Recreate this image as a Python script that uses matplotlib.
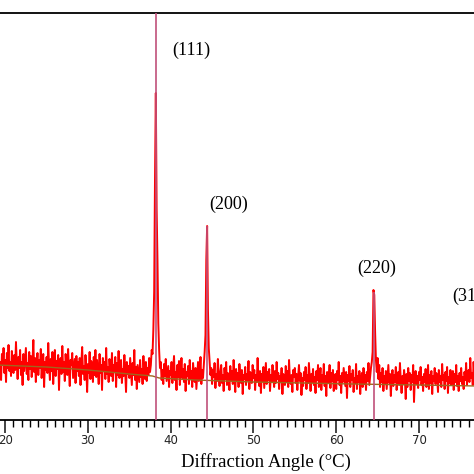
import numpy as np
import matplotlib
matplotlib.use('Agg')
import matplotlib.pyplot as plt
from matplotlib.ticker import MultipleLocator

# XRD scan, 0.1 deg steps starting at 19.0 deg (one row per degree)
start_angle = 19.0
step = 0.1
counts = [
    62, 48, 70, 51, 58, 40, 66, 55, 72, 47,   # 19
    60, 38, 67, 52, 75, 49, 58, 44, 69, 53,   # 20
    47, 65, 50, 78, 56, 41, 63, 52, 70, 45,   # 21
    58, 35, 66, 49, 61, 72, 46, 57, 40, 68,   # 22
    51, 64, 43, 59, 80, 48, 62, 38, 55, 67,   # 23
    45, 60, 52, 71, 42, 57, 66, 33, 58, 50,   # 24
    63, 47, 77, 54, 40, 61, 49, 68, 36, 56,   # 25
    70, 44, 59, 51, 65, 30, 57, 62, 46, 74,   # 26
    48, 58, 39, 66, 53, 45, 71, 50, 34, 60,   # 27
    55, 67, 42, 52, 61, 37, 64, 49, 58, 44,   # 28
    62, 35, 57, 73, 46, 54, 40, 65, 51, 28,   # 29
    56, 47, 68, 41, 59, 52, 38, 63, 45, 70,   # 30
    43, 60, 50, 36, 66, 47, 55, 30, 62, 49,   # 31
    58, 41, 72, 46, 53, 38, 61, 50, 44, 67,   # 32
    39, 55, 48, 63, 33, 57, 45, 69, 42, 52,   # 33
    60, 37, 51, 44, 65, 48, 28, 58, 46, 54,   # 34
    42, 62, 49, 35, 57, 45, 70, 40, 53, 31,   # 35
    55, 46, 38, 60, 43, 51, 36, 64, 47, 41,   # 36
    58, 39, 52, 45, 62, 48, 55, 70, 66, 90,   # 37
    128, 240, 327, 210, 160, 97, 70, 52, 58, 40,   # 38
    50, 36, 56, 44, 61, 39, 47, 54, 33, 49,   # 39
    45, 58, 37, 52, 64, 40, 48, 30, 55, 43,   # 40
    59, 35, 47, 62, 42, 51, 38, 56, 29, 48,   # 41
    44, 54, 36, 60, 41, 49, 33, 57, 46, 38,   # 42
    52, 31, 45, 58, 39, 47, 63, 36, 50, 42,   # 43
    55, 68, 85, 160, 194, 110, 72, 58, 45, 52,   # 44
    36, 50, 43, 57, 32, 46, 39, 61, 44, 34,   # 45
    48, 55, 37, 45, 29, 52, 41, 58, 35, 47,   # 46
    43, 30, 54, 40, 49, 36, 60, 42, 28, 51,   # 47
    39, 47, 33, 56, 44, 37, 50, 26, 45, 41,   # 48
    53, 35, 46, 40, 59, 31, 48, 43, 37, 55,   # 49
    42, 50, 30, 45, 38, 62, 41, 34, 49, 27,   # 50
    46, 39, 53, 32, 44, 57, 36, 48, 40, 51,   # 51
    29, 45, 38, 55, 42, 33, 49, 37, 58, 41,   # 52
    47, 31, 44, 39, 52, 26, 46, 40, 35, 54,   # 53
    38, 49, 33, 60, 41, 36, 45, 28, 50, 43,   # 54
    52, 37, 46, 30, 44, 55, 39, 47, 25, 42,   # 55
    34, 48, 40, 53, 31, 45, 37, 57, 42, 29,   # 56
    46, 38, 51, 35, 43, 27, 49, 40, 55, 33,   # 57
    41, 52, 30, 45, 38, 56, 34, 44, 24, 48,   # 58
    37, 43, 55, 32, 47, 39, 50, 29, 42, 46,   # 59
    31, 49, 40, 58, 35, 44, 27, 47, 38, 52,   # 60
    43, 34, 48, 22, 45, 39, 54, 33, 46, 40,   # 61
    50, 28, 42, 37, 56, 31, 44, 38, 49, 26,   # 62
    41, 47, 33, 52, 36, 45, 30, 48, 39, 57,   # 63
    35, 44, 52, 58, 68, 130, 125, 88, 60, 48,   # 64
    62, 41, 55, 33, 47, 38, 52, 29, 44, 36,   # 65
    49, 31, 43, 55, 37, 46, 24, 41, 50, 34,   # 66
    45, 38, 53, 30, 42, 48, 35, 57, 40, 27,   # 67
    44, 36, 50, 41, 21, 46, 33, 52, 39, 47,   # 68
    30, 45, 38, 55, 18, 42, 49, 36, 44, 32,   # 69
    48, 40, 53, 35, 43, 29, 46, 38, 51, 33,   # 70
    42, 55, 31, 45, 37, 49, 26, 44, 39, 52,   # 71
    36, 47, 41, 28, 50, 38, 44, 33, 56, 40,   # 72
    45, 31, 48, 39, 53, 27, 43, 37, 50, 35,   # 73
    41, 49, 30, 46, 38, 55, 34, 44, 29, 47,   # 74
    39, 52, 36, 43, 31, 48, 40, 57, 35, 45,   # 75
    50, 38, 62, 42, 47, 35, 58, 44, 40, 53,   # 76
]

# fitted background (brown line)
bg_angle = [19.0, 25.0, 30.0, 35.0, 37.8, 38.6, 43.0, 50.0, 56.0, 62.0, 70.0, 77.0]
bg_counts = [55, 53, 50, 46, 44, 42, 40, 38, 37, 36, 35, 34]

# reference peak positions (sticks)
ref_angle = [38.2, 44.4, 64.6]
ref_height = [460, 194, 128]

peak_labels = ['(111)', '(200)', '(220)', '(311)']
label_x = [42.45, 47.04, 64.93, 74.0]
label_y = [370, 216, 152, 124]
label_ha = ['center', 'center', 'center', 'left']

angle = start_angle + step * np.arange(len(counts))

fig = plt.figure(figsize=(4.74, 4.74), dpi=100)
ax = fig.add_axes([0, 54 / 474, 1, 407 / 474])

ax.plot(angle, counts, color='#ff0000', lw=1.4, zorder=2)
ax.plot(bg_angle, bg_counts, color='#a0661e', lw=1.0, zorder=3)
ax.vlines(ref_angle, 0, ref_height, color='#c0507a', lw=1.2, zorder=4)

for t, x, y, ha in zip(peak_labels, label_x, label_y, label_ha):
    ax.text(x, y, t, ha=ha, va='center', fontsize=13, family='Liberation Serif')

ax.set_xlim(19.37, 76.65)
ax.set_ylim(0, 407)
ax.spines['left'].set_visible(False)
ax.spines['right'].set_visible(False)
ax.spines['top'].set_linewidth(1.3)
ax.spines['bottom'].set_linewidth(1.3)
ax.set_yticks([])
ax.xaxis.set_major_locator(MultipleLocator(10))
ax.xaxis.set_minor_locator(MultipleLocator(1))
ax.tick_params(axis='x', which='major', direction='out', length=9, width=1.2,
               labelsize=8.5, colors='#222222', pad=1)
ax.tick_params(axis='x', which='minor', direction='out', length=5, width=1.0)
ax.set_xlabel('Diffraction Angle (\u00b0C)', fontsize=13.5, family='Liberation Serif')
ax.xaxis.set_label_coords(0.56, -0.082)

fig.savefig('out.png', dpi=100)
